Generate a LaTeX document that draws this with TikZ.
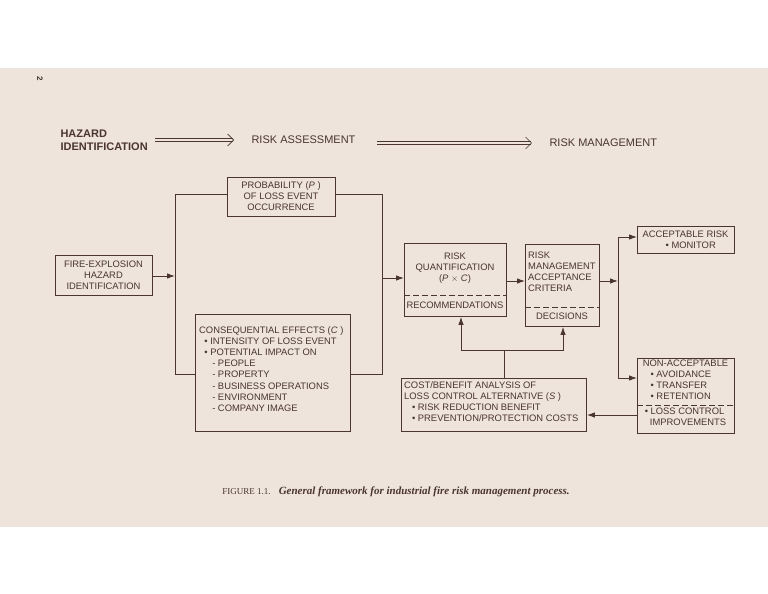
\documentclass[tikz,border=0pt]{standalone}
\usepackage{fontspec}
\setmainfont{Liberation Sans}
\newfontfamily\capfont{Liberation Serif}
\usetikzlibrary{arrows.meta}
\definecolor{paper}{HTML}{EEE4DB}
\definecolor{ink}{HTML}{4A3530}
\begin{document}
\begin{tikzpicture}[x=1pt,y=-1pt,
  every node/.style={text=ink,font=\fontsize{9.4}{11}\selectfont},
  bx/.style={draw=ink,line width=0.9pt},
  ln/.style={draw=ink,line width=0.9pt},
  ar/.style={ln,-{Latex[length=8pt,width=5.5pt]}},
  dbl/.style={draw=ink,double=paper,double distance=2.5pt,line width=0.6pt,-{Straight Barb[length=6pt,width=12pt]}},
  dsh/.style={draw=ink,line width=0.9pt,dash pattern=on 6pt off 3pt}]
\useasboundingbox (0,0) rectangle (768,594);
\fill[white] (0,0) rectangle (768,594);
\fill[paper] (0,68) rectangle (768,527);
\node[rotate=-90,font=\fontsize{8}{8}\selectfont\bfseries] (pg) at (40,79) {2};
% header
\node[anchor=west,align=left,font=\fontsize{11}{13}\selectfont\bfseries] (hi) at (57,140) {HAZARD\\IDENTIFICATION};
\node[anchor=west,font=\fontsize{11}{13}\selectfont] (ra) at (248,140) {RISK ASSESSMENT};
\node[anchor=west,font=\fontsize{11}{13}\selectfont] (rm) at (546,143) {RISK MANAGEMENT};
\coordinate (d1) at (234,140);
\draw[dbl] (hi.east) ++(4,0) -- (d1);
\draw[dbl] (ra.east) ++(18,3) -- ++(155,0);
% boxes
\node[bx,minimum width=108pt,minimum height=39pt,align=center] (prob) at (281,196.5) {PROBABILITY (\textit{P} )\\OF LOSS EVENT\\OCCURRENCE};
\node[bx,minimum width=97pt,minimum height=40pt,align=center] (fire) at (103.5,275) {FIRE-EXPLOSION\\HAZARD\\IDENTIFICATION};
\node[bx,minimum width=155pt,minimum height=117pt,align=left,anchor=north west,inner sep=0pt] (cons) at (195,314) {};
\node[anchor=north west,align=left,inner sep=0pt,font=\fontsize{9.4}{11.2}\selectfont] (constx) at (199,326) {CONSEQUENTIAL EFFECTS (\textit{C} )\\
\ \ • INTENSITY OF LOSS EVENT\\
\ \ • POTENTIAL IMPACT ON\\
\ \ \ \ \ - PEOPLE\\
\ \ \ \ \ - PROPERTY\\
\ \ \ \ \ - BUSINESS OPERATIONS\\
\ \ \ \ \ - ENVIRONMENT\\
\ \ \ \ \ - COMPANY IMAGE};
\node[bx,anchor=north west,minimum width=102pt,minimum height=73pt,inner sep=0pt] (quant) at (404,243) {};
\node[align=center] (quanttx) at (455,268) {RISK\\QUANTIFICATION\\(\textit{P} $\times$ \textit{C})};
\node (rec) at (455,305) {RECOMMENDATIONS};
\draw[dsh] (404,295) -- (506,295);
\node[bx,anchor=north west,minimum width=74pt,minimum height=82pt,inner sep=0pt] (mgmt) at (525,244) {};
\node[anchor=north west,align=left,inner sep=0pt] (mgmttx) at (528,252) {RISK\\MANAGEMENT\\ACCEPTANCE\\CRITERIA};
\node (dec) at (562,316) {DECISIONS};
\draw[dsh] (525,307) -- (599,307);
\node[bx,anchor=north west,minimum width=97pt,minimum height=27pt,inner sep=0pt] (acc) at (637,226) {};
\node[align=center] (acctx) at (685.5,239.5) {ACCEPTABLE RISK\\\ \ \ \ • MONITOR};
\node[bx,anchor=north west,minimum width=97pt,minimum height=75pt,inner sep=0pt] (non) at (637,358) {};
\node[anchor=north,align=left,inner sep=0pt] (nontx) at (685.5,360) {NON-ACCEPTABLE\\\ \ \ • AVOIDANCE\\\ \ \ • TRANSFER\\\ \ \ • RETENTION};
\draw[dsh] (637,405) -- (734,405);
\node[anchor=north,align=left,inner sep=0pt] (lci) at (685.5,408) {• LOSS CONTROL\\\ \ IMPROVEMENTS};
\node[bx,anchor=north west,minimum width=185pt,minimum height=53pt,inner sep=0pt] (cost) at (401,378) {};
\node[anchor=north west,align=left,inner sep=0pt] (costtx) at (404,381) {COST/BENEFIT ANALYSIS OF\\LOSS CONTROL ALTERNATIVE (\textit{S} )\\\ \ \ • RISK REDUCTION BENEFIT\\\ \ \ • PREVENTION/PROTECTION COSTS};
% connectors
\coordinate (lj) at (175,276);
\draw[ar] (fire.east |- lj) -- (lj);
\draw[ln] (prob.west |- 0,194) -| (175,374) -- (cons.west |- 0,374);
\draw[ln] (prob.east |- 0,194) -| (382,374) -- (cons.east |- 0,374);
\draw[ar] (382,278) -- (quant.west |- 0,278);
\draw[ar] (quant.east |- 0,281) -- (mgmt.west |- 0,281);
\coordinate (rj) at (618,281);
\draw[ar] (mgmt.east |- 0,281) -- (rj);
\draw[ar] (618,281) |- (acc.west |- 0,237);
\draw[ar] (618,281) |- (non.west |- 0,378);
\draw[ar] (non.west |- 0,415) -- (cost.east |- 0,415);
\coordinate (cj) at (504,350);
\draw[ln] (cost.north -| cj) -- (cj);
\draw[ar] (cj) -| (quant.south -| 461,0);
\draw[ar] (cj) -| (mgmt.south -| 563,0);
% caption
\node[font=\capfont\itshape\fontsize{11}{13}\selectfont] (cap) at (396,492) {{\upshape\fontsize{9}{11}\selectfont FIGURE 1.1.}\ \ \ \textbf{General framework for industrial fire risk management process.}};
\end{tikzpicture}
\end{document}
